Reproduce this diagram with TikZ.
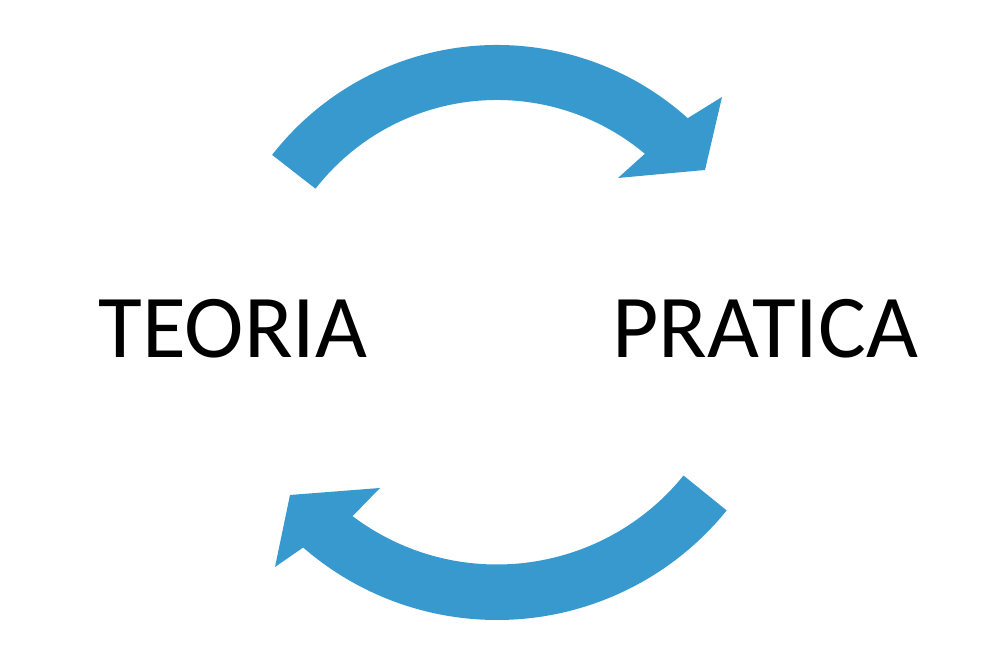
\documentclass[tikz,border=0pt]{standalone}
\usepackage{fontspec}
\setmainfont{Carlito}
\definecolor{arrowblue}{HTML}{3799CE}
\begin{document}
\begin{tikzpicture}[x=0.01cm,y=0.01cm,
  blockarrow/.style={fill=arrowblue,draw=none},
  label/.style={font=\fontsize{25.5}{30}\selectfont,inner sep=0pt}]
\useasboundingbox (0,0) rectangle (998,665);
\begin{scope}[shift={(497,335)}]
  \fill[blockarrow] (142.1:285) arc[start angle=142.1,end angle=48,radius=285]
    -- (225,233) -- (208,160) -- (121,152) -- (50:230)
    arc[start angle=50,end angle=142.1,radius=230] -- cycle;
\end{scope}
\begin{scope}[shift={(497,340.5)}]
  \fill[blockarrow] (-39:295.5) arc[start angle=-39,end angle=-131,radius=295.5]
    -- (-222,-242.5) -- (-207,-170.5) -- (-117,-163.5) -- (-127:240)
    arc[start angle=-127,end angle=-39,radius=240] -- cycle;
\end{scope}
\node[label] (teoria) at (233,336) {TEORIA};
\node[label] (pratica) at (765,336) {PRATICA};
\end{tikzpicture}
\end{document}
